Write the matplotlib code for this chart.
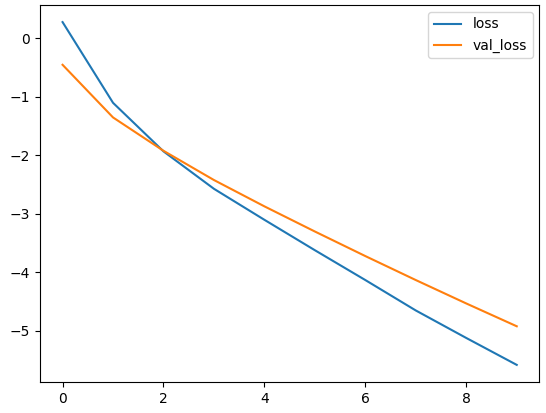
import numpy as np
import matplotlib
matplotlib.use("Agg")
import matplotlib.pyplot as plt

epochs = list(range(10))
loss = [0.28, -1.1, -1.93, -2.57, -3.1, -3.62, -4.13, -4.65, -5.12, -5.58]
val_loss = [-0.45, -1.35, -1.92, -2.42, -2.87, -3.3, -3.72, -4.13, -4.53, -4.92]

fig, ax = plt.subplots(figsize=(5.46, 4.13), dpi=100)
fig.subplots_adjust(left=0.073, right=0.988, top=0.988, bottom=0.075)
ax.plot(epochs, loss, label='loss')
ax.plot(epochs, val_loss, label='val_loss')
ax.legend()
fig.savefig("out.png")
